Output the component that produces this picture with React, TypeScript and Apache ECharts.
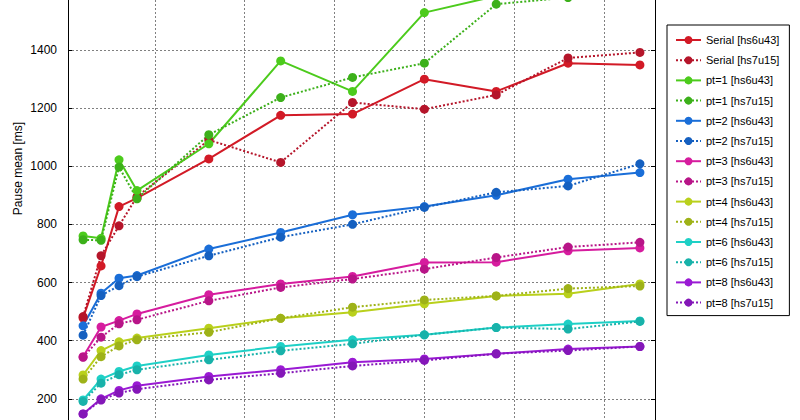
import React, { useEffect, useRef } from 'react';
import * as echarts from 'echarts';

// heap size / thread count on the (cropped) x axis
const xValues = [1, 2, 3, 4, 8, 12, 16, 20, 24, 28, 32];

const serial6 = [478, 657, 861, 890, 1025, 1175, 1179, 1299, 1257, 1354, 1348];
const serial7 = [483, 692, 795, 895, 1090, 1013, 1219, 1196, 1245, 1372, 1391];
const pt1_6 = [760, 752, 1022, 916, 1077, 1362, 1257, 1528, 1585, 1640, 1625];
const pt1_7 = [747, 745, 997, 888, 1108, 1236, 1305, 1354, 1557, 1580, 1600];
const pt2_6 = [451, 563, 615, 624, 715, 772, 833, 861, 900, 955, 978];
const pt2_7 = [419, 555, 589, 620, 692, 756, 800, 858, 910, 932, 1008];
const pt3_6 = [345, 447, 469, 492, 558, 595, 621, 669, 670, 709, 719];
const pt3_7 = [343, 412, 458, 472, 537, 583, 612, 646, 686, 722, 738];
const pt4_6 = [282, 366, 396, 409, 443, 477, 498, 527, 554, 561, 595];
const pt4_7 = [268, 345, 382, 403, 429, 477, 515, 540, 554, 579, 588];
const pt6_6 = [196, 268, 294, 313, 351, 380, 403, 420, 445, 457, 468];
const pt6_7 = [191, 254, 283, 300, 334, 365, 389, 420, 445, 440, 466];
const pt8_6 = [148, 200, 229, 245, 277, 300, 326, 337, 355, 371, 380];
const pt8_7 = [148, 196, 220, 233, 265, 288, 313, 332, 355, 366, 380];

// only these tick labels fall inside the picture
const shownTicks = [200, 400, 600, 800, 1000, 1200, 1400];

const seriesDefs: { name: string; values: number[]; color: string; dotted: boolean }[] = [
  { name: 'Serial [hs6u43]', values: serial6, color: '#d21a26', dotted: false },
  { name: 'Serial [hs7u15]', values: serial7, color: '#b5152a', dotted: true },
  { name: 'pt=1 [hs6u43]', values: pt1_6, color: '#4ccb1c', dotted: false },
  { name: 'pt=1 [hs7u15]', values: pt1_7, color: '#3cb01a', dotted: true },
  { name: 'pt=2 [hs6u43]', values: pt2_6, color: '#1a6ed8', dotted: false },
  { name: 'pt=2 [hs7u15]', values: pt2_7, color: '#1560c0', dotted: true },
  { name: 'pt=3 [hs6u43]', values: pt3_6, color: '#d61c9e', dotted: false },
  { name: 'pt=3 [hs7u15]', values: pt3_7, color: '#b81588', dotted: true },
  { name: 'pt=4 [hs6u43]', values: pt4_6, color: '#b9d01c', dotted: false },
  { name: 'pt=4 [hs7u15]', values: pt4_7, color: '#9eb218', dotted: true },
  { name: 'pt=6 [hs6u43]', values: pt6_6, color: '#1ed0c6', dotted: false },
  { name: 'pt=6 [hs7u15]', values: pt6_7, color: '#18b2aa', dotted: true },
  { name: 'pt=8 [hs6u43]', values: pt8_6, color: '#9a1ad4', dotted: false },
  { name: 'pt=8 [hs7u15]', values: pt8_7, color: '#8417b8', dotted: true },
];

const FONT = '"Liberation Sans", Arial, sans-serif';
const gridLine = { show: true, lineStyle: { color: '#808080', width: 1, type: [2, 2] as any } };

const App: React.FC = () => {
  const chartRef = useRef<HTMLDivElement>(null);

  useEffect(() => {
    document.body.style.margin = '0';
    if (!chartRef.current) return;
    const chart = echarts.init(chartRef.current, undefined, { renderer: 'svg' });

    const option: any = {
      animation: false,
      backgroundColor: '#ffffff',
      textStyle: { fontFamily: FONT },
      // the plot is cropped: top and bottom of the grid lie outside the picture
      grid: { left: 68, right: 145, top: -120, bottom: -37, containLabel: false, outerBoundsMode: 'none' },
      legend: {
        orient: 'vertical',
        left: 667,
        top: 25,
        padding: [8, 10, 6, 8],
        borderColor: '#000000',
        borderWidth: 1,
        backgroundColor: '#ffffff',
        itemWidth: 25,
        itemHeight: 10,
        itemGap: 6.2,
        textStyle: { fontFamily: FONT, fontSize: 11, color: '#000000', lineHeight: 14 },
        data: seriesDefs.map((s) => s.name),
      },
      xAxis: {
        type: 'value',
        min: 0.16,
        max: 32.84,
        splitNumber: 5,
        minInterval: 5,
        maxInterval: 5,
        axisLine: { show: false },
        axisTick: { show: false },
        axisLabel: { show: false },
        splitLine: gridLine,
      },
      yAxis: [
        {
          type: 'value',
          min: 0,
          max: 1984,
          interval: 200,
          name: 'Pause mean [ms]',
          nameLocation: 'middle',
          nameGap: 44,
          nameMoveOverlap: false,
          nameTextStyle: { fontFamily: FONT, fontSize: 12, color: '#000000' },
          axisLine: { show: true, lineStyle: { color: '#000000', width: 1 } },
          axisTick: { show: true, inside: true, length: 4, lineStyle: { color: '#000000' } },
          axisLabel: {
            fontFamily: FONT,
            fontSize: 12,
            color: '#000000',
            margin: 11,
            formatter: (v: number) => (shownTicks.includes(v) ? String(v) : ''),
          },
          splitLine: gridLine,
        },
        {
          type: 'value',
          position: 'right',
          min: 0,
          max: 1984,
          interval: 200,
          axisLine: { show: true, lineStyle: { color: '#000000', width: 1 } },
          axisTick: { show: true, inside: true, length: 4, lineStyle: { color: '#000000' } },
          axisLabel: { show: false },
          splitLine: { show: false },
        },
      ],
      series: seriesDefs.map((s) => ({
        name: s.name,
        type: 'line',
        yAxisIndex: 0,
        symbol: 'circle',
        symbolSize: 9,
        color: s.color,
        lineStyle: { width: 2, type: s.dotted ? 'dotted' : 'solid', color: s.color },
        itemStyle: { color: s.color },
        emphasis: { disabled: true },
        data: xValues.map((x, i) => [x, s.values[i]]),
      })),
    };

    chart.setOption(option);
    return () => {
      chart.dispose();
    };
  }, []);

  return (
    <div
      ref={chartRef}
      style={{ position: 'absolute', left: 0, top: 0, width: '800px', height: '420px' }}
    />
  );
};

export default App;
